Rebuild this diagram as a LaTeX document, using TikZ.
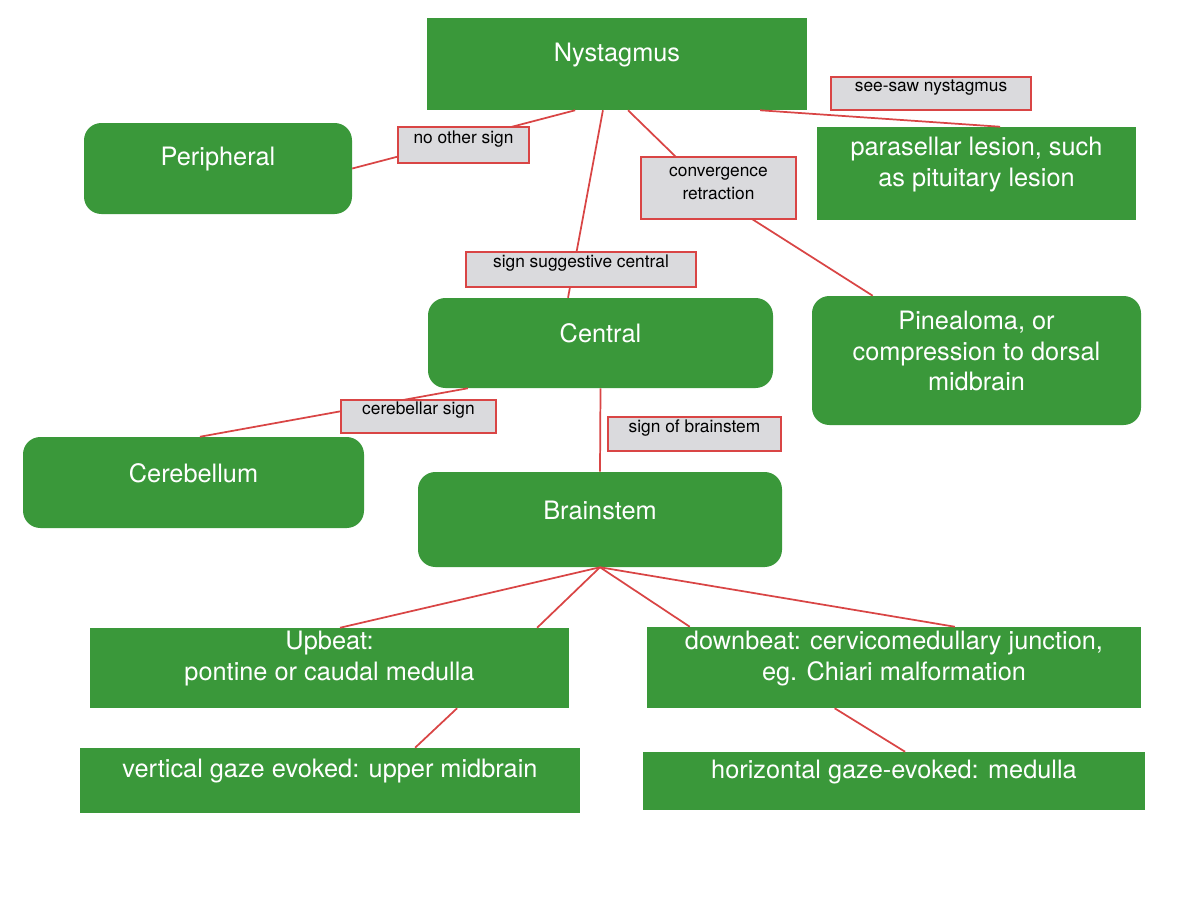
\documentclass[tikz,border=0pt]{standalone}
\usepackage{fontspec}
\setmainfont{TeX Gyre Heros}
\usetikzlibrary{fit,calc}
\definecolor{gr}{HTML}{3A983A}
\definecolor{rl}{HTML}{D94545}
\definecolor{lg}{HTML}{DADADD}
\tikzset{
 gbox/.style={fill=gr,draw=none,inner sep=0pt,text=white,align=center,font=\fontsize{19}{23}\selectfont},
 rbox/.style={gbox,rounded corners=13pt},
 lab/.style={fill=lg,draw=rl,line width=1.2pt,inner sep=0pt,text=black,align=center,font=\fontsize{13}{17}\selectfont},
 ln/.style={draw=rl,line width=1.3pt}
}
\begin{document}
\begin{tikzpicture}[x=0.75pt,y=-0.75pt]
\fill[white] (0,0) rectangle (1200,900);
\node[gbox,fit={(427,18)(807,110)}] (nys) {Nystagmus};
\node[rbox,fit={(84,123)(352,214)}] (per) {Peripheral};
\node[gbox,fit={(817,127)(1136,220)}] (para) {parasellar lesion, such\\as pituitary lesion};
\node[rbox,fit={(428,298)(773,388)}] (cen) {Central};
\node[rbox,fit={(812,296)(1141,425)}] (pine) {Pinealoma, or\\compression to dorsal\\midbrain};
\node[rbox,fit={(23,437)(364,528)}] (cer) {Cerebellum};
\node[rbox,fit={(418,472)(782,567)}] (bra) {Brainstem};
\node[gbox,fit={(90,628)(569,708)}] (up) {Upbeat:\\pontine or caudal medulla};
\node[gbox,fit={(647,627)(1141,708)}] (down) {downbeat: cervicomedullary junction,\\eg. Chiari malformation};
\node[gbox,fit={(80,748)(580,813)}] (vert) {vertical gaze evoked: upper midbrain};
\node[gbox,fit={(643,752)(1145,810)}] (hor) {horizontal gaze-evoked: medulla};
% label positions (coordinates only)
\path (398,127) coordinate (l1a) (529,163) coordinate (l1b)
      (831,77) coordinate (l2a) (1031,110) coordinate (l2b)
      (641,157) coordinate (l3a) (796,219) coordinate (l3b)
      (466,252) coordinate (l4a) (696,287) coordinate (l4b)
      (341,400) coordinate (l5a) (496,433) coordinate (l5b)
      (608,417) coordinate (l6a) (781,451) coordinate (l6b);
\path (l3a) -- (l3b) coordinate[pos=0] (c3nw);
% connectors
\draw[ln] ($(nys.south west)!0.39!(nys.south east)$) -- (per.east);
\draw[ln] ($(nys.south west)!0.463!(nys.south east)$) -- ($(cen.north west)!0.406!(cen.north east)$);
\draw[ln] ($(nys.south west)!0.529!(nys.south east)$) -- ($(l3a)!0.226!(l3b|-l3a)$);
\draw[ln] ($(l3a|-l3b)!0.716!(l3b)$) -- ($(pine.north west)!0.185!(pine.north east)$);
\draw[ln] ($(nys.south west)!0.876!(nys.south east)$) -- ($(para.north west)!0.574!(para.north east)$);
\draw[ln] ($(cen.south west)!0.116!(cen.south east)$) -- ($(cer.north west)!0.519!(cer.north east)$);
\draw[ln] (cen.south) -- (bra.north);
\draw[ln] (bra.south) -- ($(up.north west)!0.522!(up.north east)$);
\draw[ln] (bra.south) -- ($(up.north west)!0.933!(up.north east)$);
\draw[ln] (bra.south) -- ($(down.north west)!0.087!(down.north east)$);
\draw[ln] (bra.south) -- ($(down.north west)!0.623!(down.north east)$);
\draw[ln] ($(up.south west)!0.766!(up.south east)$) -- ($(vert.north west)!0.67!(vert.north east)$);
\draw[ln] ($(down.south west)!0.38!(down.south east)$) -- ($(hor.north west)!0.522!(hor.north east)$);
% labels
\node[lab,fit=(l1a)(l1b)] (t1) {no other sign};
\node[lab,fit=(l2a)(l2b)] (t2) {see-saw nystagmus};
\node[lab,fit=(l3a)(l3b)] (t3) {convergence\\retraction};
\node[lab,fit=(l4a)(l4b)] (t4) {sign suggestive central};
\node[lab,fit=(l5a)(l5b)] (t5) {cerebellar sign};
\node[lab,fit=(l6a)(l6b)] (t6) {sign of brainstem};
\end{tikzpicture}
\end{document}
